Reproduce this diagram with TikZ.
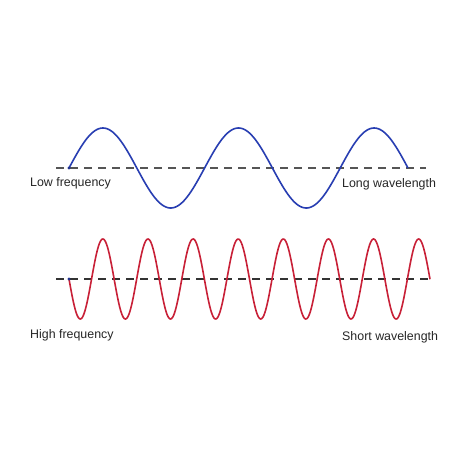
\documentclass[tikz,border=0pt]{standalone}
\usepackage{fontspec}
\setmainfont{Liberation Sans}
\definecolor{waveblue}{RGB}{40,62,178}
\definecolor{wavered}{RGB}{200,32,55}
\definecolor{dashgray}{RGB}{85,85,85}
\begin{document}
\begin{tikzpicture}[x=1pt,y=-1pt,
  axisline/.style={dashgray,line width=1.3pt,dash pattern=on 8pt off 6pt},
  wave/.style={line width=1.6pt},
  lbl/.style={font=\fontsize{12.4}{14}\selectfont,inner sep=0pt,text=black!85},
  startdot/.style={fill=waveblue!80!black,draw=none}]
\fill[white] (0,0) rectangle (474,474);
\useasboundingbox (0,0) rectangle (474,474);
% top: low frequency
\coordinate (tl) at (56,168);
\coordinate (tr) at (426,168);
\draw[axisline] (tl) -- (tr);
\draw[wave,waveblue] plot[domain=69:408,samples=240,smooth] (\x,{168-40*sin((\x-69)*2.65487)});
\fill[startdot] (69,168) circle (1.6pt);
\node[lbl,anchor=west] (lowf) at (30,183) {Low frequency};
\node[lbl,anchor=west] (longw) at (342,184) {Long wavelength};
% bottom: high frequency
\coordinate (bl) at (56,279);
\coordinate (br) at (428,279);
\draw[axisline,black!80] (bl) -- (br);
\draw[wave,wavered] plot[domain=69:430,samples=480,smooth] (\x,{279+40*sin((\x-69)*7.97872)});
\fill[startdot] (69,279) circle (1.6pt);
\node[lbl,anchor=west] (highf) at (30,335) {High frequency};
\node[lbl,anchor=west] (shortw) at (342,337) {Short wavelength};
\end{tikzpicture}
\end{document}
